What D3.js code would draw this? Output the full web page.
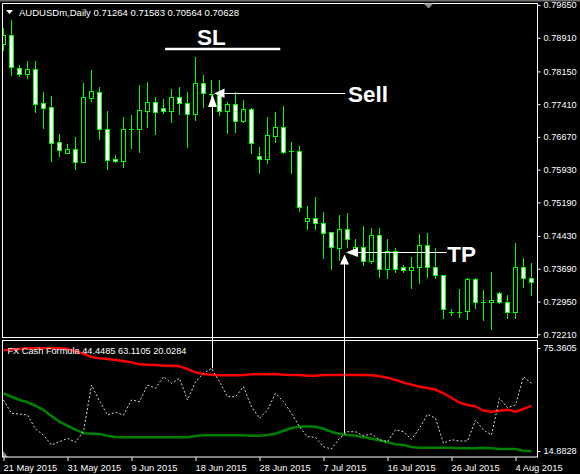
<!DOCTYPE html>
<html><head><meta charset="utf-8">
<script src="https://cdn.jsdelivr.net/npm/d3@7/dist/d3.min.js"></script>
<style>html,body{margin:0;padding:0;background:#000;overflow:hidden}svg{display:block}</style>
</head><body>
<svg id="c" width="580" height="474"></svg>
<script>
// ---- data ----
const priceTicks = [0.79650,0.78910,0.78150,0.77410,0.76670,0.75930,0.75190,0.74430,0.73690,0.72950,0.72210];
const indicatorTicks = [75.3605, 14.8828];
const dateTickBars = [0,8,16,24,32,40,48,56,64];
const dateLabels = ["21 May 2015","31 May 2015","9 Jun 2015","18 Jun 2015","28 Jun 2015","7 Jul 2015","16 Jul 2015","26 Jul 2015","4 Aug 2015"];

const openP = [0.78762,0.78972,0.78220,0.78084,0.78204,0.77429,0.77339,0.76548,0.76313,0.76390,
0.76110,0.77556,0.77678,0.76842,0.76171,0.76119,0.76842,0.76842,0.77262,0.77452,
0.77316,0.77262,0.77565,0.77429,0.77181,0.77881,0.77628,0.77617,0.77255,0.77413,
0.77036,0.77293,0.76238,0.76164,0.76697,0.76887,0.76344,0.76344,0.74777,0.74837,
0.74718,0.74514,0.74166,0.74582,0.74076,0.74175,0.73873,0.74453,0.73678,0.74099,
0.73724,0.73663,0.73724,0.74228,0.73724,0.73543,0.72720,0.72720,0.72736,0.73453,
0.72946,0.72933,0.73136,0.72933,0.72707,0.73724,0.73475];
const highP = [0.79137,0.79311,0.78294,0.78385,0.78385,0.77678,0.77594,0.76735,0.76503,0.76668,
0.77888,0.78181,0.77791,0.77255,0.76254,0.77120,0.77165,0.77843,0.77910,0.77571,
0.77526,0.77752,0.77797,0.77678,0.78468,0.78068,0.77955,0.77955,0.77465,0.77678,
0.77504,0.77316,0.76435,0.77113,0.77226,0.77368,0.76555,0.76464,0.75109,0.75312,
0.74973,0.74521,0.74905,0.74944,0.74363,0.74657,0.74612,0.74612,0.74356,0.74153,
0.73776,0.73963,0.74476,0.74492,0.74153,0.73543,0.72775,0.73227,0.73475,0.73475,
0.73211,0.73624,0.73172,0.73098,0.74279,0.73927,0.73814];
const lowP = [0.78640,0.78068,0.78053,0.78007,0.77239,0.76878,0.76125,0.76245,0.76299,0.75945,
0.76096,0.77481,0.76616,0.75951,0.76110,0.75997,0.76426,0.76336,0.76900,0.76742,
0.77210,0.77013,0.77194,0.76449,0.77052,0.77339,0.77391,0.77165,0.76765,0.76787,
0.77013,0.76299,0.75847,0.76087,0.76561,0.76299,0.75861,0.75002,0.74589,0.74589,
0.73940,0.73692,0.73889,0.74182,0.74069,0.73776,0.73821,0.73511,0.73475,0.73624,
0.73617,0.73249,0.73376,0.73511,0.73475,0.72571,0.72646,0.72608,0.72549,0.72797,
0.72533,0.72323,0.72910,0.72571,0.72571,0.73285,0.73098];
const closeP = [0.78972,0.78256,0.78084,0.78204,0.77420,0.77330,0.76539,0.76374,0.76397,0.76110,
0.77565,0.77700,0.76842,0.76141,0.76119,0.76842,0.76842,0.77271,0.77452,0.77226,
0.77262,0.77565,0.77429,0.77181,0.77881,0.77655,0.77628,0.77262,0.77413,0.77036,
0.77293,0.76525,0.76164,0.76706,0.76887,0.76336,0.76344,0.75093,0.74837,0.74731,
0.74505,0.74189,0.74582,0.74370,0.74175,0.73873,0.74453,0.73678,0.74099,0.73678,
0.73663,0.73724,0.74228,0.73724,0.73543,0.72775,0.72720,0.72720,0.73453,0.72933,
0.72946,0.72985,0.72933,0.72707,0.73724,0.73475,0.73398];

const redLine = [74.19,74.36,74.77,75.20,75.20,75.20,75.20,75.20,74.77,73.60,
71.84,70.08,69.31,68.90,68.31,67.73,66.96,65.79,65.55,65.38,
64.97,64.97,64.61,63.03,61.09,60.09,59.68,59.33,59.33,59.33,
59.51,59.92,59.92,59.92,60.09,59.68,59.51,59.51,59.10,59.10,
59.51,59.51,59.51,59.51,59.51,59.51,59.33,58.74,57.92,56.57,
54.98,53.81,52.63,51.87,50.87,48.76,46.18,43.24,41.89,41.13,
38.54,37.96,38.54,39.13,37.96,39.54,41.48];
const greenLine = [48.76,46.76,44.83,43.48,41.48,38.95,35.43,32.08,29.73,27.39,
25.27,25.04,24.86,23.86,23.10,22.92,22.92,22.92,22.92,22.92,
22.92,22.92,22.92,22.92,23.69,24.10,24.10,24.10,24.10,24.10,
24.10,23.86,23.86,24.27,25.04,26.80,28.38,29.15,29.38,29.15,
27.97,26.21,25.04,24.27,23.86,23.10,22.10,21.16,19.99,18.81,
18.40,17.23,16.82,16.82,16.82,16.82,16.82,16.47,16.47,16.47,
16.82,16.47,16.05,16.05,16.05,15.06,14.88];
const dotLine = [44.83,37.02,36.61,36.02,27.80,24.27,18.40,20.34,22.34,19.99,
26.40,53.63,44.24,36.02,37.60,36.02,44.83,43.83,53.63,51.70,
58.51,54.63,57.57,44.83,55.57,60.50,63.44,55.57,46.76,46.76,
52.63,40.89,34.08,38.95,48.76,43.83,37.02,29.15,23.27,22.92,
17.40,16.05,22.34,26.21,26.21,23.86,24.86,21.52,20.34,27.39,
26.21,21.75,28.21,36.43,34.08,19.40,21.52,20.75,20.75,33.08,
27.21,24.27,45.83,40.30,41.89,58.51,54.63];

// annotation levels (bar index / price)
const sellBar = 26, sellPrice = 0.77655, sellLineEnd = 42.7;
const tpBar = 42.5, tpPrice = 0.74061, tpLineEnd = 55.4;
const slPrice = 0.78656, slFrom = 20.2, slTo = 34.6;
const sellIndEnd = 63.44, tpIndEnd = 25.45;

// ---- drawing ----
const svg = d3.select("#c");
const FONT = "'Liberation Sans', Arial, sans-serif";
svg.append("rect").attr("width",580).attr("height",474).attr("fill","#000");
svg.append("rect").attr("x",0).attr("y",0).attr("width",580).attr("height",1.5).attr("fill","#6e6e6e");

const x = d3.scaleLinear().domain([0,66]).range([3.5,531.5]);
const y = d3.scaleLinear().domain([0.7965,0.7221]).range([5,334.3]);
const yi = d3.scaleLinear().domain([75.3605,14.8828]).range([348,451]);
const cr = v => Math.round(v) + 0.5;

const defs = svg.append("defs");
defs.append("clipPath").attr("id","mainClip").append("rect").attr("x",3).attr("y",4).attr("width",534).attr("height",333);
defs.append("clipPath").attr("id","indClip").append("rect").attr("x",3).attr("y",341).attr("width",534).attr("height",116);

// candles
const candles = openP.map((o,i)=>({i,o,h:highP[i],l:lowP[i],c:closeP[i]}));
const gC = svg.append("g").attr("clip-path","url(#mainClip)");
const cg = gC.selectAll("g.c").data(candles).join("g").attr("class","c");
cg.append("line")
  .attr("x1",d=>x(d.i)).attr("x2",d=>x(d.i))
  .attr("y1",d=>Math.round(y(d.h))).attr("y2",d=>Math.round(y(d.l))+1)
  .attr("stroke","#00ff00").attr("stroke-width",1);
cg.each(function(d){
  const g = d3.select(this);
  const t = cr(y(Math.max(d.o,d.c))), b = cr(y(Math.min(d.o,d.c)));
  if (b - t < 1) {
    g.append("line").attr("x1",x(d.i)-2.5).attr("x2",x(d.i)+2.5).attr("y1",t).attr("y2",t)
      .attr("stroke","#00ff00").attr("stroke-width",1);
  } else {
    g.append("rect").attr("x",x(d.i)-2).attr("width",4).attr("y",t).attr("height",b-t)
      .attr("fill", d.c < d.o ? "#ffffff" : "#000000").attr("stroke","#00ff00").attr("stroke-width",1);
  }
});

// indicator lines
const gI = svg.append("g").attr("clip-path","url(#indClip)");
const ln = d3.line().x((d,i)=>x(i)).y(d=>yi(d));
gI.append("path").attr("d",ln(redLine)).attr("fill","none").attr("stroke","#ff0000").attr("stroke-width",2.4);
gI.append("path").attr("d",ln(greenLine)).attr("fill","none").attr("stroke","#008000").attr("stroke-width",2.6);
gI.append("path").attr("d",ln(dotLine)).attr("fill","none").attr("stroke","#d8d8d8").attr("stroke-width",1).attr("stroke-dasharray","2,2");
gI.append("polygon").attr("points","3,451 3,457 8,457").attr("fill","#7d8ea8");

// annotations
const W = "#ffffff";
const xs = cr(x(sellBar)), ys = cr(y(sellPrice));
svg.append("line").attr("x1",xs).attr("x2",xs).attr("y1",ys+13).attr("y2",yi(sellIndEnd)).attr("stroke",W);
svg.append("line").attr("x1",xs+11).attr("x2",x(sellLineEnd)).attr("y1",ys).attr("y2",ys).attr("stroke",W);
svg.append("polygon").attr("points",`${xs},${ys+1} ${xs-4.5},${ys+13.5} ${xs+4.5},${ys+13.5}`).attr("fill",W);
svg.append("polygon").attr("points",`${xs+1.5},${ys} ${xs+12},${ys-5} ${xs+12},${ys+4.5}`).attr("fill",W);
svg.append("text").attr("x",x(sellLineEnd)+3).attr("y",ys+8.5).attr("fill",W)
  .attr("font-family",FONT).attr("font-weight","bold").attr("font-size",22.5).text("Sell");

const xt = cr(x(tpBar)), yt = cr(y(tpPrice));
svg.append("line").attr("x1",xt).attr("x2",xt).attr("y1",yt+11).attr("y2",yi(tpIndEnd)).attr("stroke",W);
svg.append("line").attr("x1",xt+13).attr("x2",x(tpLineEnd)).attr("y1",yt).attr("y2",yt).attr("stroke",W);
svg.append("polygon").attr("points",`${xt},${yt+2} ${xt-4.5},${yt+12} ${xt+4.5},${yt+12}`).attr("fill",W);
svg.append("polygon").attr("points",`${xt+1.5},${yt} ${xt+13.5},${yt-5} ${xt+13.5},${yt+4.5}`).attr("fill",W);
svg.append("text").attr("x",x(tpLineEnd)+0.5).attr("y",yt+9.3).attr("fill",W)
  .attr("font-family",FONT).attr("font-weight","bold").attr("font-size",22.5).text("TP");

const ysl = y(slPrice);
svg.append("line").attr("x1",x(slFrom)).attr("x2",x(slTo)).attr("y1",ysl).attr("y2",ysl).attr("stroke",W).attr("stroke-width",2.5);
svg.append("text").attr("x",x(sellBar)).attr("y",ysl-4).attr("text-anchor","middle").attr("fill",W)
  .attr("font-family",FONT).attr("font-weight","bold").attr("font-size",22.5).text("SL");

// panel borders
const bd = svg.append("g").attr("stroke","#ffffff").attr("stroke-width",1).attr("fill","none");
bd.append("rect").attr("x",2.5).attr("y",3.5).attr("width",535).attr("height",334);
bd.append("rect").attr("x",2.5).attr("y",340.5).attr("width",535).attr("height",116.5);
svg.append("polygon").attr("points","423.5,3.5 433.5,3.5 428.5,8.5").attr("fill","#8c8c8c");

// price axis
const yAx = svg.append("g").attr("transform","translate(537.5,0)")
  .call(d3.axisRight(y).tickValues(priceTicks).tickSize(3).tickPadding(3).tickFormat(d3.format(".5f")));
yAx.select(".domain").remove();
yAx.selectAll("line").attr("stroke","#fff");
yAx.selectAll("text").attr("fill","#fff").attr("font-family",FONT).attr("font-size",9.2);

// indicator axis
const iAx = svg.append("g").attr("transform","translate(537.5,0)")
  .call(d3.axisRight(yi).tickValues(indicatorTicks).tickSize(3).tickPadding(3).tickFormat(d3.format(".4f")));
iAx.select(".domain").remove();
iAx.selectAll("line").attr("stroke","#fff");
iAx.selectAll("text").attr("fill","#fff").attr("font-family",FONT).attr("font-size",9.2);

// date axis
const xAx = svg.append("g").attr("transform","translate(0,457)")
  .call(d3.axisBottom(x).tickValues(dateTickBars).tickSize(4).tickPadding(3).tickFormat((d,i)=>dateLabels[i]));
xAx.select(".domain").remove();
xAx.selectAll("line").attr("stroke","#fff").attr("transform","translate(0,0)");
xAx.selectAll("text").attr("fill","#fff").attr("font-family",FONT).attr("font-size",9.3)
  .attr("text-anchor","start").attr("dx",-0.5);

// titles
svg.append("polygon").attr("points","6,10 13,10 9.5,14").attr("fill","#fff");
svg.append("text").attr("x",19).attr("y",15.5).attr("fill","#fff").attr("font-family",FONT).attr("font-size",9.4)
  .attr("textLength",220).attr("lengthAdjust","spacingAndGlyphs")
  .text("AUDUSDm,Daily  0.71264 0.71583 0.70564 0.70628");
svg.append("text").attr("x",7.5).attr("y",353.5).attr("fill","#fff").attr("font-family",FONT).attr("font-size",9.2)
  .attr("textLength",179).attr("lengthAdjust","spacingAndGlyphs")
  .text("FX Cash Formula 44.4485 63.1105 20.0284");
</script>
</body></html>
